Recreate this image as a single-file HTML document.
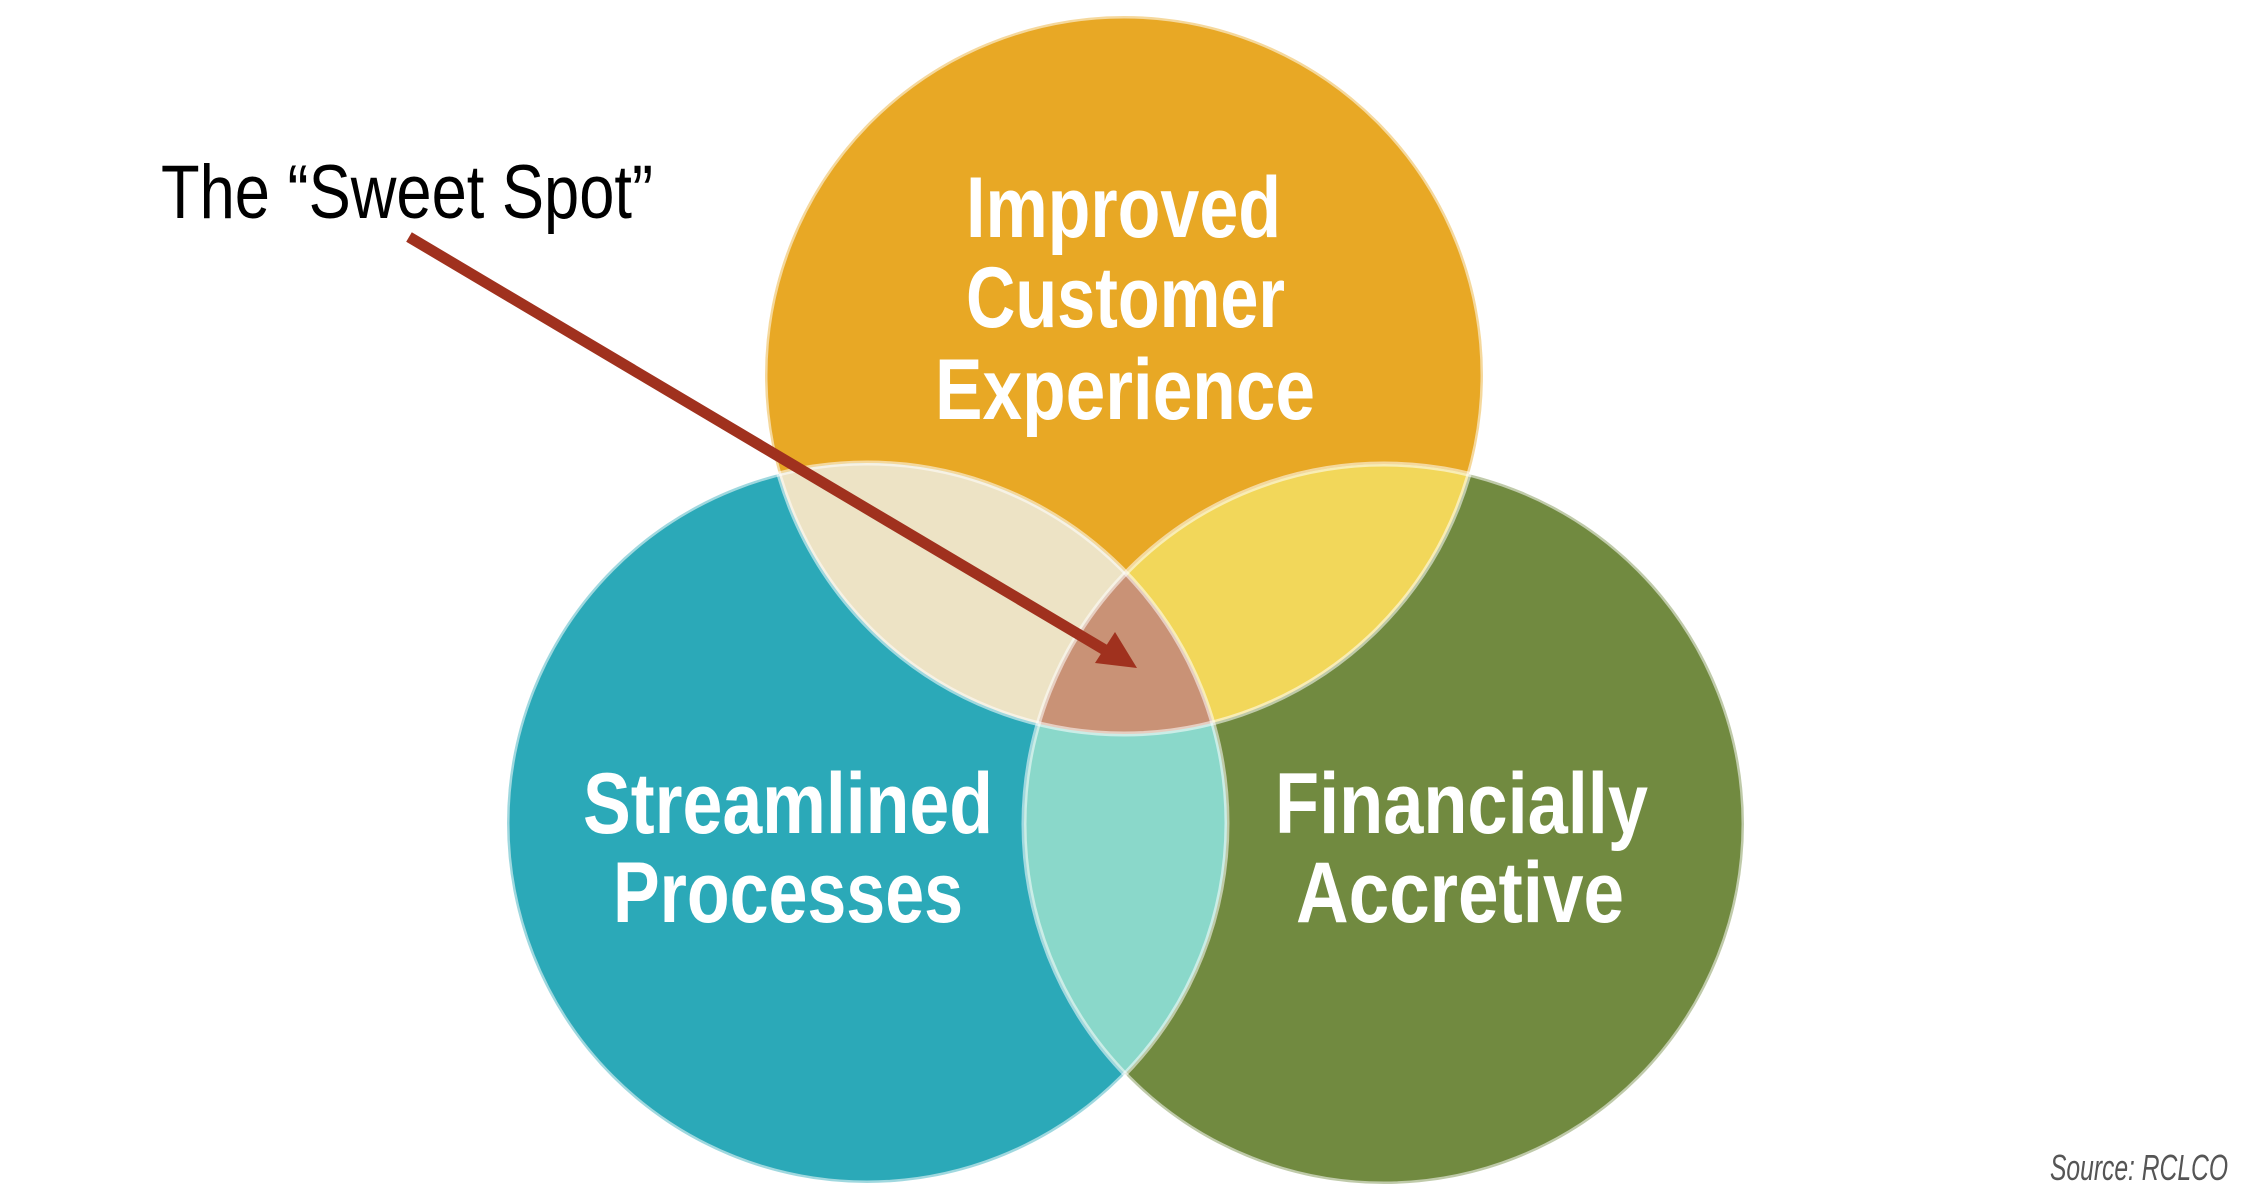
<!DOCTYPE html>
<html><head><meta charset="utf-8"><style>html,body{margin:0;padding:0;background:#fff;}svg{display:block}</style></head>
<body>
<svg width="2251" height="1201" viewBox="0 0 2251 1201" xmlns="http://www.w3.org/2000/svg">
<defs>
<clipPath id="cT"><circle cx="1124" cy="375" r="359"/></clipPath>
<clipPath id="cL"><circle cx="867" cy="823" r="360"/></clipPath>
<clipPath id="cR"><circle cx="1384" cy="824" r="360"/></clipPath>
</defs>
<circle cx="1124" cy="375" r="359" fill="#E8A825"/>
<circle cx="867" cy="823" r="360" fill="#2BA9B8"/>
<circle cx="1384" cy="824" r="360" fill="#718A40"/>
<g clip-path="url(#cT)"><circle cx="867" cy="823" r="360" fill="#EDE3C5"/><circle cx="1384" cy="824" r="360" fill="#F2D75A"/></g>
<g clip-path="url(#cL)"><circle cx="1384" cy="824" r="360" fill="#8AD8CA"/></g>
<g clip-path="url(#cL)"><g clip-path="url(#cR)"><circle cx="1124" cy="375" r="359" fill="#C99276"/></g></g>
<g fill="none" stroke="#fff" stroke-opacity="0.55" stroke-width="5">
<circle cx="1124" cy="375" r="359"/><circle cx="867" cy="823" r="360"/><circle cx="1384" cy="824" r="360"/>
</g>
<g font-family="'Liberation Sans Narrow','Liberation Sans',sans-serif" font-weight="bold" font-size="86" fill="#fff" lengthAdjust="spacingAndGlyphs">
<text x="966" y="237" textLength="315" lengthAdjust="spacingAndGlyphs">Improved</text>
<text x="966" y="327" textLength="319" lengthAdjust="spacingAndGlyphs">Customer</text>
<text x="935" y="419" textLength="380" lengthAdjust="spacingAndGlyphs">Experience</text>
<text x="583" y="833" textLength="410" lengthAdjust="spacingAndGlyphs">Streamlined</text>
<text x="613" y="922" textLength="350" lengthAdjust="spacingAndGlyphs">Processes</text>
<text x="1275" y="833" textLength="373" lengthAdjust="spacingAndGlyphs">Financially</text>
<text x="1296" y="922" textLength="328" lengthAdjust="spacingAndGlyphs">Accretive</text>
</g>
<text x="161" y="218" font-family="'Liberation Sans Narrow','Liberation Sans',sans-serif" font-size="76" fill="#000" textLength="492" lengthAdjust="spacingAndGlyphs">The “Sweet Spot”</text>
<text x="2050" y="1180" font-family="'Liberation Sans Narrow','Liberation Sans',sans-serif" font-style="italic" font-size="36" fill="#555" textLength="178" lengthAdjust="spacingAndGlyphs">Source: RCLCO</text>
<line x1="409" y1="237" x2="1105" y2="650" stroke="#A0311E" stroke-width="11"/>
<polygon points="1137,668 1095,663 1115,632" fill="#A0311E"/>
</svg>
</body></html>
